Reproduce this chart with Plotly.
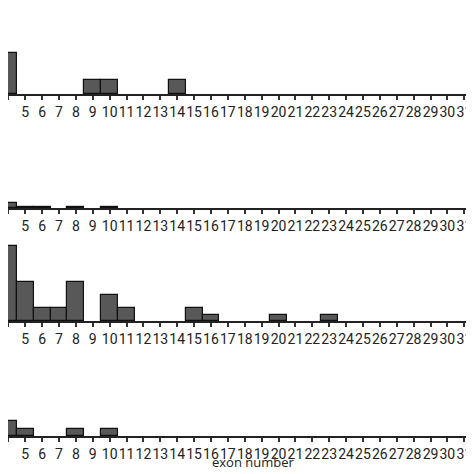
import plotly.graph_objects as go

exons = list(range(4, 33))
panel1 = {4: 3, 9: 1, 10: 1, 14: 1}
panel2 = {4: 0.35, 5: 0.08, 6: 0.08, 8: 0.08, 10: 0.08}
panel3 = {4: 11.5, 5: 6, 6: 2, 7: 2, 8: 6, 10: 4, 11: 2, 15: 2, 16: 1, 20: 1, 23: 1}
panel4 = {4: 2, 5: 1, 8: 1, 10: 1}
panels = [panel1, panel2, panel3, panel4]
tick_labels = [str(e) for e in exons]

domains = [(1 - 86/474, 1.0), (1 - 200/474, 1 - 110/474),
           (1 - 313/474, 1 - 232/474), (1 - 428/474, 1 - 330/474)]
yranges = [[0, 86/13.7], [0, 90/14], [0, 81/6.5], [0, 98/7.5]]
FONT = "Liberation Sans Narrow, Roboto, Open Sans"

fig = go.Figure()
for i, p in enumerate(panels):
    xs = sorted(p)
    ys = [p[x] for x in xs]
    n = "" if i == 0 else str(i + 1)
    fig.add_trace(go.Bar(x=xs, y=ys, width=1, xaxis="x" + n, yaxis="y" + n,
                         marker=dict(color="#585858", line=dict(color="#111", width=1.2)),
                         showlegend=False, cliponaxis=False))
    fig.layout["xaxis" + n] = dict(range=[3.98, 32.05], anchor="y" + n, domain=[0, 1],
                                   tickmode="array", tickvals=exons, ticktext=tick_labels,
                                   tickangle=0, automargin=False,
                                   ticks="outside", ticklen=4, tickcolor="#333", tickwidth=1.5,
                                   showline=True, linecolor="#222", linewidth=2,
                                   showgrid=False, zeroline=False,
                                   tickfont=dict(size=14, color="#222", family=FONT))
    fig.layout["yaxis" + n] = dict(range=yranges[i], domain=list(domains[i]), anchor="x" + n,
                                   visible=False, fixedrange=True, automargin=False)

fig.add_annotation(text="exon number", x=245/474, y=1 - 465/474, xref="paper", yref="paper",
                   showarrow=False, font=dict(size=13, color="#222", family="Open Sans"))
fig.update_layout(width=474, height=474, margin=dict(l=0, r=0, t=0, b=0, autoexpand=False),
                  plot_bgcolor="white", paper_bgcolor="white", bargap=0)
fig.write_html("out.html")
